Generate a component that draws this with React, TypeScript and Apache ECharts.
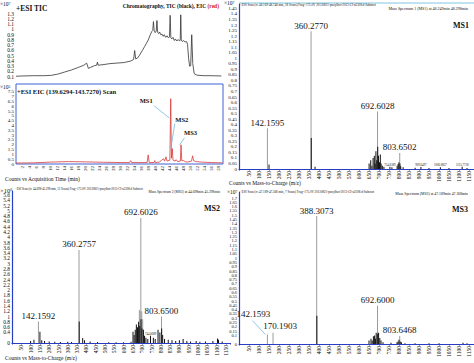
import React, { useEffect, useRef } from 'react';
import * as echarts from 'echarts';

const FONT = '"Liberation Serif", "Times New Roman", serif';
const BLUE = '#2b3cc4';
const GRAY = '#9c9c9c';
const DARK = '#111111';

// ---- chromatograms (time in min, counts) ----
const ticTrace: [number, number][] = [
  [0, 0.11], [2, 0.115], [5, 0.12], [8, 0.12], [10, 0.125], [12, 0.15], [14, 0.19], [16, 0.23], [18, 0.28],
  [19.5, 0.32], [20.3, 0.36], [20.8, 0.26], [21.5, 0.28], [22.5, 0.31], [23.2, 0.32], [23.4, 0.38], [23.6, 0.32],
  [25, 0.33], [27, 0.35], [29, 0.36], [31, 0.37], [33, 0.4], [33.8, 0.43], [34.1, 0.6], [34.4, 0.44], [35, 0.46],
  [35.5, 0.51], [36.3, 0.6], [37, 0.68], [37.5, 0.74], [38, 0.8], [38.6, 0.9], [39, 0.96], [39.3, 0.98],
  [39.5, 1.15], [39.7, 0.98], [40, 0.94], [40.3, 0.97], [40.5, 1.17], [40.7, 0.95], [41, 0.92], [41.3, 0.95],
  [41.6, 0.9], [42, 0.91], [42.3, 0.87], [42.6, 0.9], [43, 0.85], [43.4, 0.88], [43.8, 0.84], [44.1, 0.86],
  [44.3, 1.27], [44.5, 0.84], [44.8, 0.82], [45.1, 0.85], [45.5, 0.79], [45.8, 0.82], [46.2, 0.78], [46.6, 0.81],
  [47, 0.78], [47.2, 0.8], [47.35, 1.28], [47.5, 0.8], [47.8, 0.77], [48.2, 0.79], [48.6, 0.76], [49, 0.77],
  [49.3, 0.72], [49.6, 0.45], [49.9, 0.3], [50.2, 0.31], [50.5, 0.9], [50.8, 0.35], [51.2, 0.16], [52, 0.13],
  [54, 0.12], [56, 0.12], [59, 0.115],
];
const eicTrace: [number, number][] = [
  [0, 0.1], [5, 0.12], [10, 0.2], [15, 0.25], [20, 0.22], [25, 0.18], [30, 0.15], [32.5, 0.15], [32.8, 0.35],
  [33.1, 0.15], [37.5, 0.15], [37.8, 0.95], [38.1, 0.15], [39.5, 0.15], [39.7, 0.35], [39.9, 0.15], [41, 0.2],
  [41.5, 0.35], [42.2, 0.55], [42.5, 0.3], [42.9, 0.75], [43.2, 0.3], [44, 0.4], [44.25, 6.8], [44.45, 0.6],
  [44.7, 1.6], [44.9, 0.4], [45.5, 0.3], [45.8, 0.45], [46.2, 0.25], [47, 0.3], [47.2, 2.0], [47.4, 0.35],
  [48, 0.35], [48.3, 0.25], [49, 0.2], [50.2, 0.3], [50.5, 0.85], [50.8, 0.35], [51.5, 0.25], [53, 0.2],
  [56, 0.15], [59, 0.12],
];
// EIC peaks picked for MS1/MS2/MS3 [time, counts at leader tip]
const eicMarks: [string, number, number][] = [
  ['MS1', 44.25, 4.8],
  ['MS2', 44.7, 1.6],
  ['MS3', 47.2, 2.0],
];

// ---- spectra (m/z, counts) ----
const ms1Labeled: [number, number][] = [[142.1595, 0.369], [360.277, 1.245], [692.6028, 0.52], [803.6502, 0.145]];
const ms1Small: [number, number][] = [
  [150.1, 0.04], [361.28, 0.28], [380.3, 0.02], [650.5, 0.05], [658.6, 0.08], [664.6, 0.03], [670.6, 0.1],
  [676.6, 0.12], [680.6, 0.05], [684.6, 0.16], [688.6, 0.08], [693.6, 0.2], [697.6, 0.12], [702.6, 0.06],
  [706.6, 0.13], [710.6, 0.05], [716.6, 0.03], [724.6, 0.02], [764.6, 0.015], [790.6, 0.03], [795.6, 0.045],
  [799.6, 0.06], [804.65, 0.05], [808.6, 0.025], [820.6, 0.015], [880.6, 0.012], [950, 0.01], [1050, 0.008],
  [1140, 0.01],
];
const ms1Tiny: [number, number][] = [[754.6389, 0.02], [909.6497, 0.018], [1006.8837, 0.015], [1115.7718, 0.02]];

const ms2Labeled: [number, number][] = [[142.1592, 0.81], [360.2757, 3.52], [692.6026, 4.73], [803.65, 1.0]];
const ms2Gray: [number, number][] = [[684.6, 1.25], [688.6, 1.2], [697.6, 1.2], [702.6, 0.9]];
const ms2Small: [number, number][] = [
  [100, 0.08], [118, 0.12], [150.1, 0.43], [160, 0.1], [175, 0.08], [200, 0.06], [230, 0.05], [260, 0.04],
  [300, 0.05], [320, 0.04], [361.28, 0.81], [380, 0.19], [390, 0.1], [420, 0.06], [460, 0.04], [520, 0.03],
  [560, 0.03], [600, 0.03], [640, 0.05], [650.6, 0.43], [656.6, 0.3], [662.6, 0.5], [668.6, 0.7], [674.6, 0.6],
  [680.6, 0.8], [686.6, 0.65], [693.6, 0.9], [698.6, 0.55], [706.6, 0.5], [712.6, 0.27], [720, 0.2], [730, 0.15],
  [760, 0.2], [770, 0.15], [785, 0.5], [795, 0.4], [804.65, 0.55], [810, 0.3], [820, 0.15], [840, 0.12],
  [860, 0.1], [880, 0.08], [900, 0.1], [920, 0.15], [940, 0.08], [960, 0.06], [990, 0.08], [1010, 0.05],
  [1040, 0.06], [1080, 0.08], [1105, 0.17], [1110, 0.12], [1130, 0.06],
];
const ms2Tiny: [number, number][] = [[744.6089, 0.27]];

const ms3Labeled: [number, number][] = [
  [142.1593, 0.11], [170.1903, 0.13], [388.3073, 1.49], [692.6, 0.445], [803.6468, 0.094],
];
const ms3Small: [number, number][] = [
  [389.31, 0.33], [650, 0.04], [660, 0.06], [666, 0.04], [672, 0.09], [678, 0.1], [682, 0.06], [686, 0.13],
  [693.6, 0.12], [698, 0.13], [704, 0.07], [710, 0.04], [720, 0.02], [760, 0.015], [790, 0.02], [795, 0.03],
  [800, 0.05], [806, 0.03], [812, 0.02], [830, 0.01], [880, 0.01], [950, 0.008], [1000, 0.01], [1120, 0.015],
  [1140, 0.01],
];

const timeTicks = { min: 0, max: 59.2, interval: 2 };
const mzTicks = { interval: 50 };

function peakItems(
  labeled: [number, number][],
  gray: [number, number][],
  small: [number, number][],
  tiny: [number, number][],
  offsets: Record<string, [number, number]> = {}
) {
  const items: any[] = [];
  gray.forEach(([x, y]) => items.push({ value: [x, y], itemStyle: { color: GRAY } }));
  labeled.forEach(([x, y]) => {
    const t = x.toFixed(4);
    items.push({
      value: [x, y],
      itemStyle: { color: GRAY },
      label: { show: true, formatter: t, offset: offsets[t] || [0, 0] },
    });
  });
  small.forEach(([x, y]) => items.push({ value: [x, y], itemStyle: { color: DARK } }));
  tiny.forEach(([x, y]) =>
    items.push({
      value: [x, y],
      itemStyle: { color: DARK },
      label: { show: true, formatter: x.toFixed(4), fontSize: 3, distance: 1 },
    })
  );
  return items;
}

function yAxis(gridIndex: number, max: number, interval: number, hideAbove: number, fontSize: number, hideZero = false) {
  return {
    type: 'value', gridIndex, min: 0, max, interval,
    axisLine: { show: gridIndex >= 2, lineStyle: { color: BLUE, width: 1.2 } },
    axisTick: { show: false },
    splitLine: { show: false },
    axisLabel: {
      fontSize, fontFamily: FONT, color: '#111', margin: 2, hideOverlap: false,
      showMinLabel: true, showMaxLabel: true,
      formatter: (v: number) => (v > hideAbove || (hideZero && v === 0) ? '' : String(+v.toFixed(2))),
    },
  };
}

function mzAxis(gridIndex: number, max: number) {
  return {
    type: 'value', gridIndex, min: 0, max, interval: mzTicks.interval,
    axisLine: { show: true, onZero: false, lineStyle: { color: BLUE, width: 1.2 } },
    axisTick: { show: true, length: 1.5, lineStyle: { color: BLUE } },
    splitLine: { show: false },
    axisLabel: {
      fontSize: 5.5, fontFamily: FONT, color: '#111', rotate: 90, margin: 2, hideOverlap: false,
      formatter: (v: number) => (v === 0 || v > 1160 ? '' : String(v)),
    },
  };
}

export default function App() {
  const ref = useRef<HTMLDivElement>(null);
  useEffect(() => {
    document.body.style.margin = '0';
    const chart = echarts.init(ref.current!, undefined, { renderer: 'svg' });
    const peakLabel = { show: false, position: 'top', distance: 1, fontSize: 9, fontFamily: FONT, color: '#111' };
    const option: any = {
      animation: false,
      backgroundColor: '#fff',
      textStyle: { fontFamily: FONT },
      grid: [
        { left: 16, top: 9, width: 206, height: 73, outerBoundsMode: 'none' },
        { left: 16, top: 84, width: 207, height: 80, show: true, borderColor: '#3f62d6', borderWidth: 1, outerBoundsMode: 'none' },
        { left: 239, top: 4, width: 235, height: 165, outerBoundsMode: 'none' },
        { left: 12, top: 191, width: 218, height: 152, outerBoundsMode: 'none' },
        { left: 239, top: 192, width: 235, height: 152, outerBoundsMode: 'none' },
      ],
      xAxis: [
        { type: 'value', gridIndex: 0, ...timeTicks, show: false },
        {
          type: 'value', gridIndex: 1, ...timeTicks,
          axisLine: { show: false }, axisTick: { show: false }, splitLine: { show: false },
          axisLabel: {
            fontSize: 5, fontFamily: FONT, color: '#111', rotate: 90, margin: 2, hideOverlap: false,
            formatter: (v: number) => (v === 0 || v > 58.5 ? '' : String(v)),
          },
        },
        mzAxis(2, 1175),
        mzAxis(3, 1172),
        mzAxis(4, 1175),
      ],
      yAxis: [
        yAxis(0, 1.39, 0.1, 1.35, 5.5, true),
        yAxis(1, 8.33, 0.5, 7.6, 5),
        yAxis(2, 1.49, 0.05, 1.46, 5),
        yAxis(3, 5.75, 0.2, 5.65, 5.5),
        yAxis(4, 1.77, 0.05, 1.72, 4.5),
      ],
      series: [
        {
          type: 'line', xAxisIndex: 0, yAxisIndex: 0, data: ticTrace, showSymbol: false, silent: true,
          lineStyle: { color: '#333', width: 0.8 },
        },
        {
          type: 'line', xAxisIndex: 1, yAxisIndex: 1, data: eicTrace, showSymbol: false, silent: true,
          lineStyle: { color: '#d83a3a', width: 0.8 },
        },
        {
          type: 'bar', xAxisIndex: 2, yAxisIndex: 2, barWidth: 1, barGap: '-100%', silent: true, label: peakLabel,
          data: peakItems(ms1Labeled, [], ms1Small, ms1Tiny),
        },
        {
          type: 'bar', xAxisIndex: 3, yAxisIndex: 3, barWidth: 1, barGap: '-100%', silent: true, label: peakLabel,
          data: peakItems(ms2Labeled, ms2Gray, ms2Small, ms2Tiny),
        },
        {
          type: 'bar', xAxisIndex: 4, yAxisIndex: 4, barWidth: 1, barGap: '-100%', silent: true, label: peakLabel,
          data: peakItems(ms3Labeled, [], ms3Small, [], { '142.1593': [-14, -15], '170.1903': [7, -1] }),
        },
      ],
    };
    chart.setOption(option);

    const txt = (text: string, x: number, y: number, size: number, extra: any = {}) => ({
      type: 'text', x, y, silent: true, z: 100,
      style: { text, fontSize: size, fontFamily: FONT, fill: '#111', align: 'left', verticalAlign: 'middle', ...extra },
    });
    const graphics: any[] = [
      txt('×10⁷', 0, 4, 5.5),
      txt('+ESI TIC', 16, 8, 7.5, { fontWeight: 'bold' }),
      txt('Chromatography, TIC (black), EIC {r|(red)}', 219, 6, 5.5, {
        fontWeight: 'bold', align: 'right', rich: { r: { fill: '#d02020', fontSize: 5.5, fontWeight: 'bold', fontFamily: FONT } },
      }),
      txt('×10⁵', 0, 87, 5.5),
      txt('+ESI EIC (139.6294-143.7270) Scan', 17, 91, 6.5, { fontWeight: 'bold' }),
      txt('Counts vs Acquisition Time (min)', 5, 179, 5.5),
      txt('×10⁷', 224, 3, 5.5),
      txt('+ESI Scan (rt: 48.169-48.748 min, 18 Scans) Frag=175.0V 20130821-pnoylhot-2013-CI-u2308.d Subtract', 240, 5, 3.2),
      txt('Mass Spectrum 1 (MS1) at 48.249min 48.298min', 468, 8, 4, { align: 'right' }),
      txt('MS1', 469, 25, 8, { fontWeight: 'bold', align: 'right' }),
      txt('Counts vs Mass-to-Charge (m/z)', 229, 183, 5.5),
      txt('×10⁶', 0, 190, 6.5),
      txt('+ESI Scan (rt: 44.698-45.298 min, 12 Scans) Frag=175.0V 20130821-pnoylhot-2013-CI-u2308.d Subtract', 15, 189, 3),
      txt('Mass Spectrum 2 (MS2) at 44.698min 45.298min', 220, 192, 3.6, { align: 'right' }),
      txt('MS2', 220, 208, 8, { fontWeight: 'bold', align: 'right' }),
      txt('Counts vs Mass-to-Charge (m/z)', 5, 358, 5.5),
      txt('×10⁷', 227, 192, 5.5),
      txt('+ESI Scan (rt: 47.189-47.368 min, 7 Scans) Frag=175.0V 20130821-pnoylhot-2013-CI-u2308.d Subtract', 240, 192, 3.2),
      txt('Mass Spectrum (MS3) at 47.189min 47.368min', 468, 194, 3.8, { align: 'right' }),
      txt('MS3', 468, 209, 8, { fontWeight: 'bold', align: 'right' }),
      { type: 'line', silent: true, shape: { x1: 239, y1: 3, x2: 474, y2: 3 }, style: { stroke: '#7fc6e0', lineWidth: 1 } },
    ];
    // EIC leader lines to the picked peaks
    const leaderOff: Record<string, [number, number, number, number]> = {
      MS1: [-15, -12, -8, -5],
      MS2: [4, -25, 7, -4],
      MS3: [5, -7, 6, -5],
    };
    eicMarks.forEach(([name, t, v]) => {
      const p = chart.convertToPixel({ xAxisIndex: 1, yAxisIndex: 1 }, [t, v]) as number[];
      const [dx, dy, tx, ty] = leaderOff[name];
      const ex = p[0] - 1.5;
      graphics.push({
        type: 'line', silent: true, z: 90,
        shape: { x1: ex + dx, y1: p[1] + dy, x2: ex, y2: p[1] },
        style: { stroke: '#6fb9e0', lineWidth: 0.8 },
      });
      graphics.push(txt(name, ex + dx + tx, p[1] + dy + ty, 6.5, { fontWeight: 'bold', align: 'center' }));
    });
    // MS3 leader line from 142.1593 label to its peak
    const q = chart.convertToPixel({ xAxisIndex: 4, yAxisIndex: 4 }, ms3Labeled[0]) as number[];
    graphics.push({
      type: 'line', silent: true, z: 90,
      shape: { x1: q[0] - 15, y1: q[1] - 14, x2: q[0] - 2, y2: q[1] },
      style: { stroke: '#6fb9e0', lineWidth: 0.8 },
    });
    chart.setOption({ graphic: graphics });
    return () => chart.dispose();
  }, []);
  return (
    <div
      ref={ref}
      style={{ position: 'fixed', left: 0, top: 0, width: 474, height: 363, background: '#fff' }}
    />
  );
}
